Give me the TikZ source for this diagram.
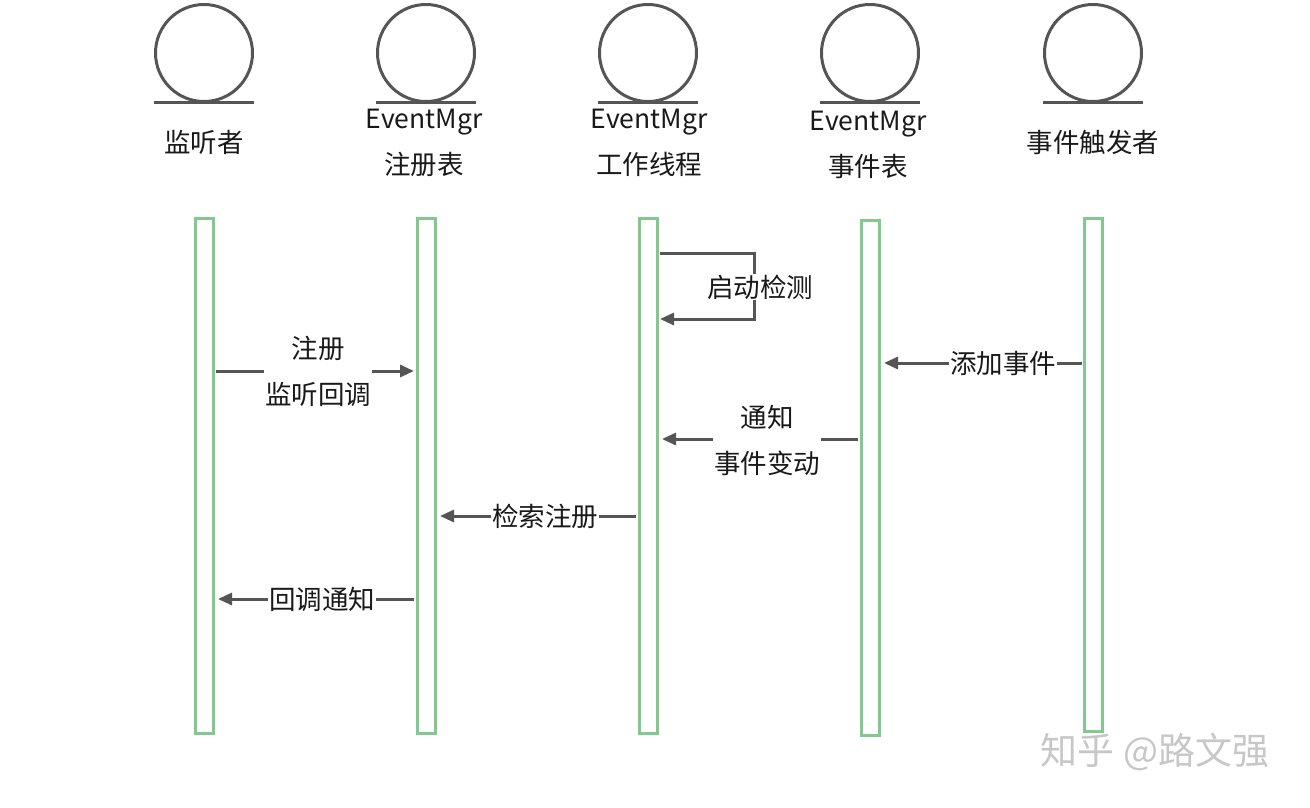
\documentclass[tikz,border=0pt]{standalone}
\usepackage{fontspec}
\setmainfont{Noto Sans CJK SC}
\usetikzlibrary{arrows.meta}
\definecolor{lg}{HTML}{82C98F}
\definecolor{dk}{HTML}{555555}
\begin{document}
\begin{tikzpicture}[x=1pt,y=-1pt,
  actor/.style={circle,draw=dk,line width=3pt,minimum size=97pt,inner sep=0pt},
  lbl/.style={font=\fontsize{26.5}{46}\selectfont,align=center,text=black!90},
  life/.style={draw=lg,line width=3pt,fill=white},
  msg/.style={draw=dk,line width=3pt,-{Triangle[length=14pt,width=12pt]}},
  ml/.style={lbl,fill=white,inner sep=1pt}]
\useasboundingbox (0,0) rectangle (1310,807);
\foreach \n/\x in {a/204,b/426,c/648,d/870,e/1093}{
  \node[actor] (\n) at (\x,53) {};
  \draw[dk,line width=3pt] (\x-50,102) -- (\x+50,102);
}
\node[lbl] (ta) at (204,142) {监听者};
\node[lbl] (tb) at (424,143) {EventMgr\\注册表};
\node[lbl] (tc) at (649,143) {EventMgr\\工作线程};
\node[lbl] (td) at (868,145) {EventMgr\\事件表};
\node[lbl] (te) at (1093,142) {事件触发者};
\foreach \n/\x/\t/\b in {a/204/218/733,b/426/218/733,c/648/218/733,d/870/220/735,e/1093/218/731}{
  \draw[life] (\x-9,\t) rectangle (\x+9,\b);
}
% 注册
\coordinate (s1) at (216,371); \coordinate (e1) at (414,371);
\draw[msg] (s1) -- (e1);
\node[ml] (m1) at (318,371) {注册\\监听回调};
% self loop
\coordinate (s2) at (660,253); \coordinate (k1) at (754,253);
\coordinate (k2) at (754,319); \coordinate (e2) at (660,319);
\draw[msg] (s2) -- (k1) -- (k2) -- (e2);
\node[ml] (m2) at (760,287) {启动检测};
% 添加事件
\coordinate (s3) at (1082,363); \coordinate (e3) at (884,363);
\draw[msg] (s3) -- (e3);
\node[ml] (m3) at (1003,363) {添加事件};
% 通知
\coordinate (s4) at (858,439); \coordinate (e4) at (662,439);
\draw[msg] (s4) -- (e4);
\node[ml] (m4) at (767,440) {通知\\事件变动};
% 检索注册
\coordinate (s5) at (636,516); \coordinate (e5) at (440,516);
\draw[msg] (s5) -- (e5);
\node[ml] (m5) at (545,516) {检索注册};
% 回调通知
\coordinate (s6) at (414,599); \coordinate (e6) at (218,599);
\draw[msg] (s6) -- (e6);
\node[ml] (m6) at (322,599) {回调通知};
\node[font=\fontsize{37}{38}\selectfont,text=black!22] (wm) at (1155,752) {知乎 @路文强};
\end{tikzpicture}
\end{document}
